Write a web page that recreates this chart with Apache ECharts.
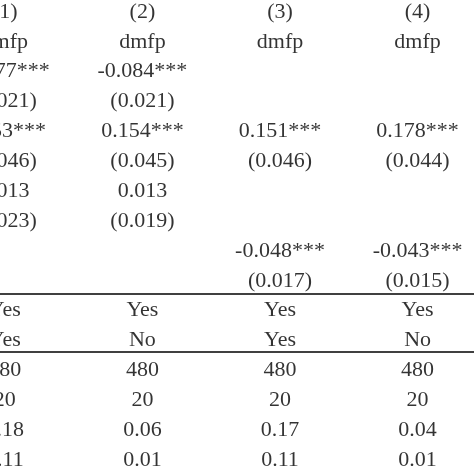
<!DOCTYPE html>
<html>
<head>
<meta charset="utf-8">
<script src="https://cdn.jsdelivr.net/npm/echarts@6/dist/echarts.min.js"></script>
<style>html,body{margin:0;padding:0;background:#fff}#c{width:474px;height:474px}</style>
</head>
<body>
<div id="c"></div>
<script>
// table cells, one array per column, row order top to bottom
var col1 = ['(1)', 'dmfp', '-0.077***', '(0.021)', '0.153***', '(0.046)', '0.013', '(0.023)', '', '', 'Yes', 'Yes', '480', '20', '0.18', '0.11'];
var col2 = ['(2)', 'dmfp', '-0.084***', '(0.021)', '0.154***', '(0.045)', '0.013', '(0.019)', '', '', 'Yes', 'No', '480', '20', '0.06', '0.01'];
var col3 = ['(3)', 'dmfp', '', '', '0.151***', '(0.046)', '', '', '-0.048***', '(0.017)', 'Yes', 'Yes', '480', '20', '0.17', '0.11'];
var col4 = ['(4)', 'dmfp', '', '', '0.178***', '(0.044)', '', '', '-0.043***', '(0.015)', 'Yes', 'No', '480', '20', '0.04', '0.01'];
var columnsData = [col1, col2, col3, col4];

var pts = [];
for (var c = 0; c < columnsData.length; c++) {
	for (var r = 0; r < columnsData[c].length; r++) {
		if (columnsData[c][r] !== '') pts.push({value: [c, r], txt: columnsData[c][r]});
	}
}

var chart = echarts.init(document.getElementById('c'));
chart.setOption({
	animation: false,
	grid: {left: 0, right: 0, top: 0, bottom: 0},
	xAxis: {type: 'value', min: -0.035, max: 3.41, show: false},
	yAxis: {type: 'value', min: -0.40, max: 15.47, inverse: true, show: false},
	series: [{
		type: 'scatter',
		symbolSize: 0,
		data: pts,
		label: {
			show: true,
			position: 'inside',
			formatter: function (p) { return p.data.txt; },
			fontFamily: 'Liberation Serif',
			fontSize: 22,
			color: '#000',
			textBorderWidth: 0
		},
		markLine: {
			silent: true,
			symbol: 'none',
			label: {show: false},
			lineStyle: {color: '#000', width: 1.5, type: 'solid'},
			data: [{yAxis: 9.44}, {yAxis: 11.38}]
		}
	}]
});
</script>
</body>
</html>
